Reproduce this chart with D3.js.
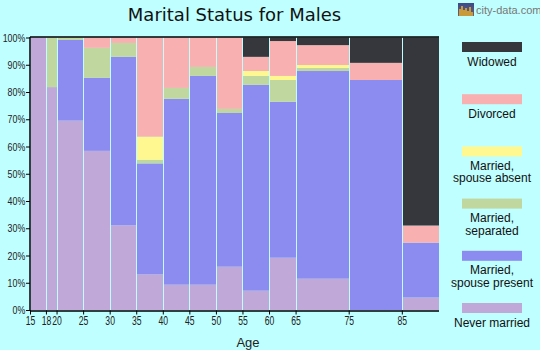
<!DOCTYPE html>
<html><head><meta charset="utf-8">
<script src="https://cdn.jsdelivr.net/npm/d3@7"></script>
<style>html,body{margin:0;padding:0;background:#c0ffff;}svg{display:block;}</style>
</head><body>
<svg id="chart" width="540" height="350"></svg>
<script>
// Age group boundaries
const ageStarts = [15, 18, 20, 25, 30, 35, 40, 45, 50, 55, 60, 65, 75, 85];
const ageEnds   = [18, 20, 25, 30, 35, 40, 45, 50, 55, 60, 65, 75, 85, 92];
const tickAges  = [15, 18, 20, 25, 30, 35, 40, 45, 50, 55, 60, 65, 75, 85];
const seriesNames = ["Never married", "Married, spouse present", "Married, separated", "Married, spouse absent", "Divorced", "Widowed"];
// Percentages per age group (bottom to top)
const neverMarried   = [100, 81.8, 69.5, 58.4, 31.1, 13.1, 9.3, 9.3, 15.9, 7.1, 19.2, 11.5, 0, 4.6];
const spousePresent  = [0, 0, 29.6, 26.8, 61.8, 40.7, 68.2, 76.6, 56.4, 75.5, 57.2, 76.2, 84.4, 20.1];
const separated      = [0, 18.2, 0.9, 11.0, 5.1, 1.3, 4.0, 3.3, 1.5, 3.3, 8.0, 1.1, 0, 0];
const spouseAbsent   = [0, 0, 0, 0, 0, 8.5, 0, 0, 0, 1.8, 1.5, 1.1, 0, 0];
const divorced       = [0, 0, 0, 3.8, 2.0, 36.4, 18.5, 10.8, 26.2, 5.2, 12.8, 7.3, 6.3, 6.3];
const widowed        = [0, 0, 0, 0, 0, 0, 0, 0, 0, 7.1, 1.3, 2.8, 9.3, 69.0];
const yTicks = [0, 10, 20, 30, 40, 50, 60, 70, 80, 90, 100];
const colors = ["#c0a8d8", "#8c8cf0", "#c0d8a0", "#fff890", "#f8b0b0", "#36373c"];

const svg = d3.select("#chart");
const x = d3.scaleLinear().domain([15, 92]).range([30, 439]);
const y = d3.scaleLinear().domain([0, 100]).range([310, 37.5]);

const values = [neverMarried, spousePresent, separated, spouseAbsent, divorced, widowed];
const rows = ageStarts.map((s, i) => {
  const r = {start: s, end: ageEnds[i]};
  seriesNames.forEach((n, k) => r[n] = values[k][i]);
  return r;
});
const stacked = d3.stack().keys(seriesNames)(rows);

// Title
svg.append("text").attr("x", 234.5).attr("y", 21).attr("text-anchor", "middle")
  .attr("font-family", "DejaVu Sans").attr("font-size", 18).attr("fill", "#111")
  .text("Marital Status for Males");

// Watermark
const wm = svg.append("g");
const grad = svg.append("defs").append("linearGradient").attr("id", "wmg").attr("x1", 0).attr("y1", 0).attr("x2", 0).attr("y2", 1);
grad.append("stop").attr("offset", "0%").attr("stop-color", "#3a4a8c");
grad.append("stop").attr("offset", "100%").attr("stop-color", "#6a6070");
wm.append("rect").attr("x", 458).attr("y", 3).attr("width", 16).attr("height", 13).attr("fill", "url(#wmg)");
wm.append("path").attr("d", "M459,16 V9 H461 V6 H463 V10 H465 V8 H467 V11 H469 V7 H471 V12 H473 V16 Z").attr("fill", "#c89a3a");
wm.append("text").attr("x", 476).attr("y", 14).attr("font-family", "Liberation Sans").attr("font-size", 11)
  .attr("fill", "#777").text("city-data.com");

// Bars
const layers = svg.append("g").selectAll("g").data(stacked).join("g")
  .attr("fill", (d, i) => colors[i]);
layers.selectAll("rect").data(d => d.map(p => ({p, row: p.data}))).join("rect")
  .attr("x", d => Math.round(x(d.row.start)) + 1)
  .attr("width", d => Math.round(x(d.row.end)) - Math.round(x(d.row.start)) - 1)
  .attr("y", d => y(d.p[1]))
  .attr("height", d => Math.max(0, y(d.p[0]) - y(d.p[1])));

// Axes
const xAxis = d3.axisBottom(x).tickValues(tickAges).tickSize(4).tickFormat(d3.format("d"));
const gx = svg.append("g").attr("transform", "translate(0,310.5)").call(xAxis);
gx.select(".domain").attr("d", "M30,0.5H439").attr("stroke", "#000").attr("stroke-width", 1.5);
gx.selectAll(".tick line").attr("stroke", "#000");
gx.selectAll(".tick text").attr("font-family", "Liberation Sans")
  .attr("font-size", 12).attr("fill", "#222").attr("y", 14.5).attr("dy", 0)
  .attr("transform", "scale(0.72,1)");

const yAxis = d3.axisLeft(y).tickValues(yTicks).tickSize(4).tickFormat(d => d + "%");
const gy = svg.append("g").attr("transform", "translate(30,0)").call(yAxis);
gy.select(".domain").attr("d", "M0,37H0V311").attr("stroke", "#000").attr("stroke-width", 1.5);
gy.selectAll(".tick line").attr("stroke", "#000");
gy.selectAll(".tick text").attr("font-family", "Liberation Sans")
  .attr("font-size", 11).attr("fill", "#222").attr("x", -6)
  .attr("transform", "scale(0.8,1)");

// Top frame line
svg.append("line").attr("x1", 30).attr("x2", 439).attr("y1", 37).attr("y2", 37)
  .attr("stroke", "#000").attr("stroke-width", 1.5);

// X axis title
svg.append("text").attr("x", 248).attr("y", 347).attr("text-anchor", "middle")
  .attr("font-family", "Liberation Sans").attr("font-size", 13).attr("fill", "#222").text("Age");

// Legend (top to bottom: Widowed ... Never married)
const legendItems = [
  {name: "Widowed", lines: ["Widowed"]},
  {name: "Divorced", lines: ["Divorced"]},
  {name: "Married, spouse absent", lines: ["Married,", "spouse absent"]},
  {name: "Married, separated", lines: ["Married,", "separated"]},
  {name: "Married, spouse present", lines: ["Married,", "spouse present"]},
  {name: "Never married", lines: ["Never married"]}
];
const legY = d3.scaleLinear().domain([0, 5]).range([42, 303]);
const lg = svg.append("g").selectAll("g").data(legendItems).join("g")
  .attr("transform", (d, i) => `translate(492,${legY(i)})`);
lg.append("rect").attr("x", -30).attr("y", 0).attr("width", 60).attr("height", 10)
  .attr("fill", d => colors[seriesNames.indexOf(d.name)]);
lg.each(function(d) {
  const t = d3.select(this).append("text").attr("text-anchor", "middle")
    .attr("font-family", "Liberation Sans").attr("font-size", 12).attr("fill", "#111");
  d.lines.forEach((l, j) => t.append("tspan").attr("x", 0).attr("y", 23.5 + j * 12.5).text(l));
});
</script>
</body></html>
